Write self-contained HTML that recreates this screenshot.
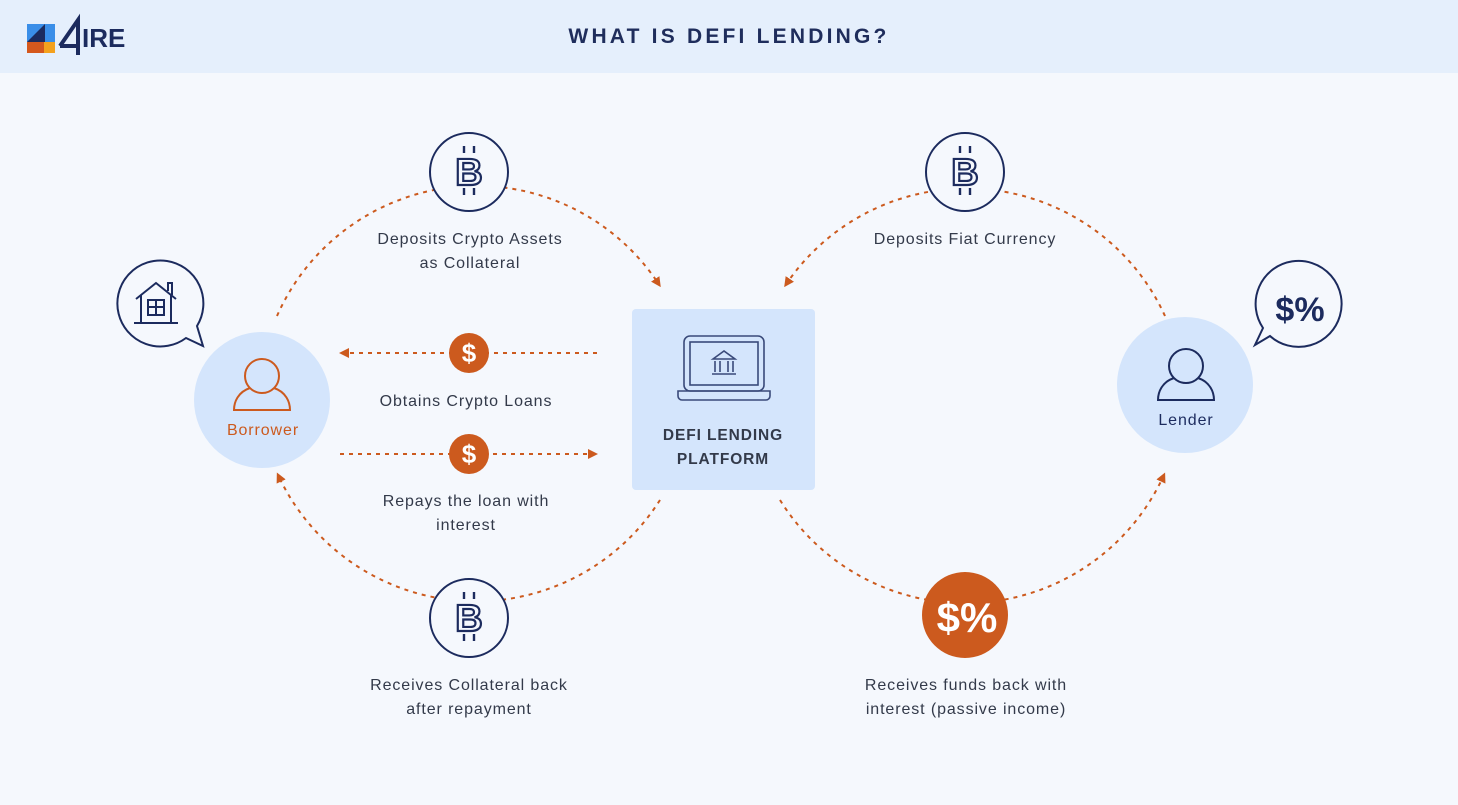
<!DOCTYPE html>
<html><head><meta charset="utf-8"><style>
html,body{margin:0;padding:0;}
body{width:1458px;height:800px;background:#f5f8fd;overflow:hidden;font-family:"Liberation Sans",sans-serif;}
</style></head><body>
<svg width="1458" height="800" viewBox="0 0 1458 800" xmlns="http://www.w3.org/2000/svg" font-family="Liberation Sans, sans-serif">
<defs>
<marker id="ah" markerWidth="10" markerHeight="10" refX="5" refY="5" orient="auto" markerUnits="userSpaceOnUse">
<path d="M0,0 L10,5 L0,10 z" fill="#cc5a1e"/>
</marker>
<g id="btc">
<circle r="39" fill="#f5f8fd" stroke="#1c2b5e" stroke-width="2"/>
<text x="0" y="13" text-anchor="middle" font-size="38" font-weight="bold" fill="none" stroke="#1c2b5e" stroke-width="2.2">B</text>
<path d="M-5,-19 v-7 M5,-19 v-7 M-5,16 v7 M5,16 v7" stroke="#1c2b5e" stroke-width="2.4"/>
</g>
<g id="dol">
<circle r="20" fill="#cc5a1e"/>
<text x="0" y="9" text-anchor="middle" font-size="26" font-weight="bold" fill="#fff">$</text>
</g>
</defs>
<rect x="0" y="0" width="1458" height="73" fill="#e5effc"/>
<!-- logo -->
<rect x="27" y="24" width="28" height="18" fill="#3a8ee8"/>
<path d="M27,42 L45,24 L45,42 z" fill="#1c2b5e"/>
<rect x="27" y="42" width="17" height="11" fill="#d5581d"/>
<rect x="44" y="42" width="11" height="11" fill="#f4a11d"/>
<path d="M60,46 L78,20 L78,55" stroke="#1c2b5e" stroke-width="4" fill="none"/>
<line x1="60" y1="46" x2="78" y2="46" stroke="#1c2b5e" stroke-width="4"/>
<text x="82" y="47" font-size="26" font-weight="bold" fill="#1c2b5e">IRE</text>
<text x="729" y="43" text-anchor="middle" font-size="21" font-weight="bold" letter-spacing="3.2" fill="#1f2d5c">WHAT IS DEFI LENDING?</text>

<g stroke="#cc5a1e" stroke-width="2" fill="none" stroke-dasharray="4 5">
<path d="M277,316 A218,218 0 0 1 658,283" marker-end="url(#ah)"/>
<path d="M1165,316 A218,218 0 0 0 787,283" marker-end="url(#ah)"/>
<path d="M660,500 A218,218 0 0 1 279,477" marker-end="url(#ah)"/>
<path d="M780,500 A218,218 0 0 0 1163,477" marker-end="url(#ah)"/>
<path d="M597,353 L344,353" marker-end="url(#ah)"/>
<path d="M340,454 L593,454" marker-end="url(#ah)"/>
</g>

<use href="#btc" x="469" y="172"/>
<use href="#btc" x="965" y="172"/>
<use href="#btc" x="469" y="618"/>
<use href="#dol" x="469" y="353"/>
<use href="#dol" x="469" y="454"/>
<circle cx="965" cy="615" r="43" fill="#cc5a1e"/>
<text x="967" y="632" text-anchor="middle" font-size="42" font-weight="bold" fill="#fff">$%</text>

<!-- platform -->
<rect x="632" y="309" width="183" height="181" rx="4" fill="#d4e5fc"/>
<g stroke="#3a4a7a" stroke-width="1.6" fill="none">
<rect x="684" y="336" width="80" height="55" rx="6"/>
<rect x="690" y="342" width="68" height="43"/>
<path d="M678,391 h92 v5 a4,4 0 0 1 -4,4 h-84 a4,4 0 0 1 -4,-4 z"/>
<path d="M713,359 l11,-8 l11,8 z M715,361 v11 M720,361 v11 M728,361 v11 M733,361 v11 M712,374 h24"/>
</g>
<text x="723" y="440" text-anchor="middle" font-size="15.5" font-weight="bold" fill="#333a4a" letter-spacing="0.9">DEFI LENDING</text>
<text x="723" y="464" text-anchor="middle" font-size="15.5" font-weight="bold" fill="#333a4a" letter-spacing="0.9">PLATFORM</text>

<!-- borrower -->
<circle cx="262" cy="400" r="68" fill="#d4e5fc"/>
<g stroke="#cc5a1e" stroke-width="2" fill="none">
<circle cx="262" cy="376" r="17"/>
<path d="M250,388 C238,392 234,402 234,410 h56 c0,-8 -4,-18 -16,-22"/>
</g>
<text x="263" y="435" text-anchor="middle" font-size="16" letter-spacing="0.9" fill="#cc5a1e">Borrower</text>
<!-- house bubble -->
<path d="M186,338 A43,43 0 1 1 197,326 L203,346 z" fill="#f5f8fd" stroke="#1c2b5e" stroke-width="2"/>
<g stroke="#1c2b5e" stroke-width="2" fill="none">
<path d="M136,299 L156,283 L176,299 M141,295 v27 M171,295 v27 M134,323 h44 M168,291 v-8 h4 v12"/>
<rect x="148" y="300" width="16" height="15"/><path d="M156,300 v15 M148,307 h16"/>
</g>

<!-- lender -->
<circle cx="1185" cy="385" r="68" fill="#d4e5fc"/>
<g stroke="#1c2b5e" stroke-width="2" fill="none">
<circle cx="1186" cy="366" r="17"/>
<path d="M1174,378 C1162,382 1158,392 1158,400 h56 c0,-8 -4,-18 -16,-22"/>
</g>
<text x="1186" y="425" text-anchor="middle" font-size="16" letter-spacing="0.9" fill="#1c2b5e">Lender</text>
<path d="M1263,328 A43,43 0 1 1 1270,336 L1255,345 z" fill="#f5f8fd" stroke="#1c2b5e" stroke-width="2"/>
<text x="1300" y="321" text-anchor="middle" font-size="34" font-weight="bold" fill="#1c2b5e">$%</text>

<g font-size="16" letter-spacing="0.9" fill="#333a4a" text-anchor="middle">
<text x="470" y="244">Deposits Crypto Assets</text>
<text x="470" y="268">as Collateral</text>
<text x="965" y="244">Deposits Fiat Currency</text>
<text x="466" y="406">Obtains Crypto Loans</text>
<text x="466" y="506">Repays the loan with</text>
<text x="466" y="530">interest</text>
<text x="469" y="690">Receives Collateral back</text>
<text x="469" y="714">after repayment</text>
<text x="966" y="690">Receives funds back with</text>
<text x="966" y="714">interest (passive income)</text>
</g>
</svg>
</body></html>
